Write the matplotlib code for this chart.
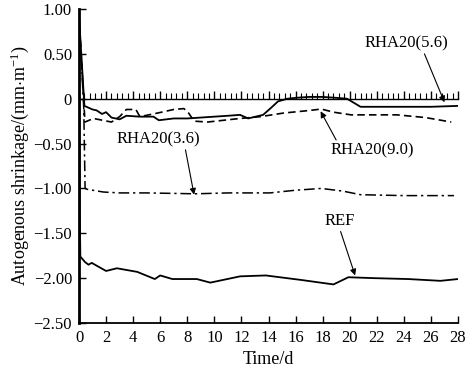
import matplotlib
matplotlib.use("Agg")
import matplotlib.pyplot as plt
from matplotlib.ticker import MultipleLocator, FuncFormatter

plt.rcParams['font.family'] = ['Liberation Serif', 'DejaVu Serif']
plt.rcParams['mathtext.fontset'] = 'custom'
plt.rcParams['mathtext.rm'] = 'Liberation Serif'
plt.rcParams['mathtext.it'] = 'Liberation Serif:italic'

# RHA20(5.6) - solid
t_56 = [0, 0.4, 0.7, 1.0, 1.3, 1.7, 2.0, 2.4, 3.0, 3.5, 4.5, 5.5, 5.9, 7.0, 8.0, 9.0,
        10.0, 11.0, 11.9, 12.5, 13.6, 14.2, 14.7, 15.4, 16.0, 17.0, 18.0, 19.0, 19.8,
        20.8, 22.0, 24.0, 26.0, 28.0]
v_56 = [0.92, -0.08, -0.10, -0.12, -0.13, -0.17, -0.15, -0.21, -0.23, -0.19, -0.20,
        -0.20, -0.24, -0.22, -0.22, -0.21, -0.20, -0.19, -0.18, -0.22, -0.18, -0.10,
        -0.03, 0.00, 0.01, 0.02, 0.02, 0.01, 0.00, -0.09, -0.09, -0.09, -0.09, -0.08]

# RHA20(9.0) - dashed
t_90 = [0, 0.44, 1.06, 2.4, 3.0, 3.5, 4.2, 4.5, 5.8, 7.0, 7.75, 8.1, 8.5, 9.5, 11.9,
        13.4, 15.1, 17.1, 17.9, 18.8, 20.1, 21.6, 23.5, 25.6, 27.5]
v_90 = [0.92, -0.26, -0.22, -0.26, -0.20, -0.12, -0.12, -0.20, -0.16, -0.12, -0.11,
        -0.16, -0.25, -0.26, -0.22, -0.20, -0.16, -0.13, -0.115, -0.15, -0.18, -0.18,
        -0.18, -0.21, -0.26]

# RHA20(3.6) - dash-dot
t_36 = [0, 0.35, 0.45, 0.6, 1.8, 3.0, 5.0, 8.6, 11.0, 14.1, 16.0, 17.9, 19.5, 20.8,
        24.0, 27.7]
v_36 = [0.92, -0.10, -1.00, -1.01, -1.04, -1.05, -1.05, -1.06, -1.05, -1.05, -1.02,
        -1.00, -1.03, -1.07, -1.08, -1.08]

# REF - solid
t_ref = [0, 0.05, 0.1, 0.44, 0.7, 0.94, 2.0, 2.8, 4.3, 5.6, 6.0, 6.9, 8.7, 9.7, 11.9,
         13.8, 16.4, 18.8, 19.9, 21.8, 24.3, 26.7, 28.0]
v_ref = [0.92, -1.20, -1.76, -1.82, -1.85, -1.83, -1.92, -1.89, -1.93, -2.01, -1.97,
         -2.01, -2.01, -2.05, -1.98, -1.97, -2.02, -2.07, -1.99, -2.00, -2.01, -2.03,
         -2.01]

x_ticks = list(range(0, 29, 2))
y_ticks = [1.0, 0.5, 0.0, -0.5, -1.0, -1.5, -2.0, -2.5]

fig = plt.figure(figsize=(4.74, 3.75), dpi=100)
ax = fig.add_axes([79 / 474, 1 - 323 / 375, (458 - 79) / 474, (323 - 9) / 375])

ax.plot(t_56, v_56, color='black', lw=1.3)
ax.plot(t_90, v_90, color='black', lw=1.2, dashes=(4.5, 2.5))
ax.plot(t_36, v_36, color='black', lw=1.1, dashes=(7, 2.5, 1.5, 2.5))
ax.plot(t_ref, v_ref, color='black', lw=1.3)

ax.set_xlim(0, 28)
ax.set_ylim(-2.5, 1.0)
ax.set_xticks(x_ticks)
ax.set_yticks(y_ticks)
ax.yaxis.set_major_formatter(FuncFormatter(lambda v, p: '0' if abs(v) < 1e-9 else f'{v:.2f}'.replace('-', '\u2212')))

for s in ['top', 'right']:
    ax.spines[s].set_visible(False)
ax.spines['left'].set_linewidth(2.0)
ax.spines['bottom'].set_linewidth(1.3)
ax.tick_params(direction='in', length=5, width=1.0, labelsize=12)
ax.tick_params(axis='x', pad=5)
ax.tick_params(axis='y', pad=5)

# zero line with its own ticks
zero_pos = (0 - ax.get_ylim()[0]) / (ax.get_ylim()[1] - ax.get_ylim()[0])
sec = ax.secondary_xaxis(zero_pos)
sec.set_xticks(x_ticks)
sec.xaxis.set_minor_locator(MultipleLocator(0.4))
sec.tick_params(which='major', direction='out', length=6, width=1.0, labeltop=False, labelbottom=False)
sec.tick_params(which='minor', direction='out', length=4, width=0.8)
sec.spines['top'].set_linewidth(1.0)

ax.set_xlabel('Time/d', fontsize=13, labelpad=4)
ax.set_ylabel('Autogenous shrinkage/(mm$\\cdot$m$^{-1}$)', fontsize=13, labelpad=2)

arrow = dict(arrowstyle='-|>', color='black', lw=0.8, mutation_scale=9, shrinkA=0, shrinkB=0)
ax.annotate('RHA20(5.6)', xy=(27.0, -0.04), xytext=(24.2, 0.62), fontsize=12,
            ha='center', va='center', arrowprops=dict(arrow, relpos=(0.7, 0.0)))
ax.annotate('RHA20(3.6)', xy=(8.5, -1.07), xytext=(5.85, -0.45), fontsize=12,
            ha='center', va='center', arrowprops=dict(arrow, relpos=(0.82, 0.0)))
ax.annotate('RHA20(9.0)', xy=(17.85, -0.14), xytext=(21.7, -0.58), fontsize=12,
            ha='center', va='center', arrowprops=dict(arrow, relpos=(0.08, 1.0)))
ax.annotate('REF', xy=(20.4, -1.97), xytext=(19.26, -1.36), fontsize=12,
            ha='center', va='center', arrowprops=dict(arrow, relpos=(0.5, 0.0)))

fig.savefig('out.png', dpi=100)
